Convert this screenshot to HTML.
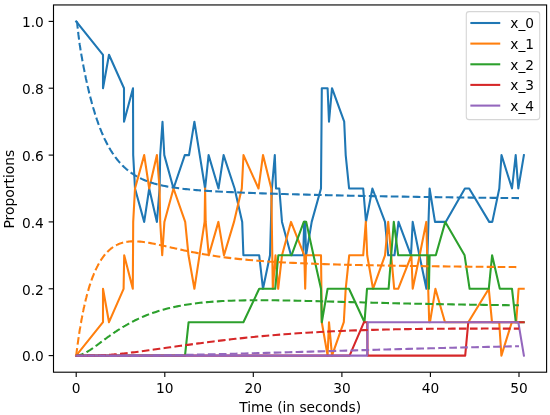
<!DOCTYPE html>
<html><head><meta charset="utf-8"><title>Proportions</title>
<style>
html,body{margin:0;padding:0;background:#fff;}
svg{display:block;}
text{font-family:"DejaVu Sans","Liberation Sans",sans-serif;font-size:13.75px;fill:#000;}
.s{fill:none;stroke-width:2.08;stroke-linejoin:round;stroke-linecap:square;}
.d{fill:none;stroke-width:2.08;stroke-dasharray:7.66 3.315;stroke-linecap:butt;stroke-linejoin:round;}
.t{stroke:#000;stroke-width:1.11;}
</style></head><body>
<svg width="550" height="415" viewBox="0 0 550 415">
<rect width="550" height="415" fill="#fff"/>
<clipPath id="c"><rect x="53.5" y="4.95" width="493.1" height="367.25"/></clipPath>
<g clip-path="url(#c)">
<polyline class="s" stroke="#1f77b4" points="76.2,21.4 103.0,54.8 103.0,88.2 109.0,54.8 124.0,88.2 124.0,121.7 133.0,88.2 133.2,155.1 135.0,188.5 144.2,221.9 149.2,188.5 156.9,221.9 159.6,188.5 160.2,155.1 162.5,121.7 164.3,155.1 173.5,188.5 184.8,155.1 189.0,155.1 194.4,121.7 205.1,188.5 208.6,155.1 218.5,188.5 223.6,155.1 234.6,188.5 242.2,221.9 243.4,255.3 259.2,255.3 263.0,288.8 270.0,255.3 271.9,188.5 274.8,155.1 276.0,188.5 279.3,188.5 282.0,221.9 291.0,255.3 303.2,255.3 304.2,221.9 305.1,221.9 306.1,255.3 311.7,221.9 321.0,188.5 321.8,88.2 327.6,88.2 329.0,121.7 332.0,88.2 344.2,121.7 345.7,155.1 349.1,188.5 363.2,188.5 366.0,221.9 372.4,188.5 385.0,221.9 388.2,255.3 394.5,255.3 398.5,221.9 411.0,255.3 412.7,221.9 419.4,255.3 426.4,288.8 427.4,255.3 429.6,188.5 435.0,221.9 445.7,221.9 464.9,188.5 469.2,188.5 489.2,221.9 492.3,221.9 499.3,188.5 501.5,155.1 512.0,188.5 515.7,155.1 518.3,188.5 523.9,155.1"/>
<polyline class="s" stroke="#ff7f0e" points="76.2,355.6 103.0,322.2 103.0,288.8 109.0,322.2 123.6,288.8 124.2,255.3 132.8,288.8 133.2,221.9 135.0,188.5 144.2,155.1 149.2,188.5 156.9,155.1 159.6,188.5 160.2,221.9 162.2,255.3 164.4,221.9 173.5,188.5 185.2,221.9 188.5,255.3 194.4,288.8 204.6,221.9 205.1,188.5 205.7,221.9 208.8,255.3 218.4,221.9 224.0,255.3 234.0,221.9 241.8,188.5 243.5,155.1 258.5,188.5 263.0,155.1 271.3,188.5 272.8,288.8 275.5,255.3 278.2,288.8 282.0,255.3 291.0,221.9 304.3,255.3 305.2,288.8 306.1,255.3 321.0,255.3 321.8,322.2 327.6,355.6 329.0,322.2 332.0,355.6 343.8,322.2 345.7,288.8 349.2,255.3 363.2,255.3 365.8,221.9 367.2,255.3 373.0,288.8 385.0,255.3 388.2,221.9 394.2,288.8 398.2,288.8 411.4,255.3 412.7,288.8 419.7,255.3 426.3,221.9 427.2,255.3 429.2,322.2 430.0,322.2 435.4,288.8 445.0,322.2 468.3,322.2 488.8,288.8 492.0,322.2 499.2,322.2 501.4,355.6 511.8,322.2 516.2,322.2 518.6,288.8 523.7,288.8"/>
<polyline class="s" stroke="#2ca02c" points="76.2,355.6 185.0,355.6 188.6,322.2 243.4,322.2 259.2,288.8 275.2,288.8 278.3,255.3 291.5,255.3 303.8,221.9 306.2,221.9 313.5,255.3 321.0,288.8 321.8,322.2 327.6,288.8 349.0,288.8 364.5,322.2 367.0,288.8 388.6,288.8 393.8,221.9 398.2,255.3 428.2,255.3 428.9,288.8 429.6,255.3 435.8,255.3 445.3,221.9 464.6,255.3 469.6,288.8 488.8,288.8 492.1,255.3 499.8,288.8 512.0,288.8 515.8,322.2 523.7,322.2"/>
<polyline class="s" stroke="#d62728" points="76.2,355.6 349.6,355.6 364.0,322.2 367.2,322.2 367.6,355.6 465.2,355.6 468.3,322.2 523.7,322.2"/>
<polyline class="s" stroke="#9467bd" points="76.2,355.6 367.2,355.6 367.6,322.2 518.3,322.2 523.9,355.6"/>
<polyline class="d" stroke="#1f77b4" points="76.2,21.40 76.6,21.83 77.1,22.25 77.5,26.46 78.0,30.66 78.4,34.47 78.9,38.27 79.3,41.47 79.7,44.67 80.2,47.50 80.6,50.34 81.1,52.97 81.5,55.59 82.0,58.08 82.4,60.57 82.8,62.95 83.3,65.33 83.7,67.62 84.2,69.90 84.6,72.10 85.1,74.30 85.5,76.42 85.9,78.54 86.4,80.58 86.8,82.61 87.3,84.58 87.7,86.54 88.2,88.43 88.6,90.32 89.0,92.14 89.5,93.95 89.9,95.71 90.4,97.46 90.8,99.14 91.3,100.83 91.7,102.45 92.1,104.08 92.6,105.64 93.0,107.20 93.5,108.71 93.9,110.21 94.4,111.66 94.8,113.11 95.2,114.51 95.7,115.90 96.1,117.25 96.6,118.59 97.0,119.88 97.5,121.18 97.9,122.42 98.3,123.67 98.8,124.87 99.2,126.07 99.7,127.23 100.1,128.38 100.6,129.49 101.0,130.61 101.4,131.68 101.9,132.75 102.3,133.78 102.8,134.82 103.2,135.81 103.7,136.81 104.1,137.76 104.5,138.72 105.0,139.64 105.4,140.57 105.9,141.46 106.3,142.35 106.8,143.20 107.2,144.06 107.6,144.88 108.1,145.71 108.5,146.50 109.0,147.30 109.4,148.06 109.9,148.83 110.3,149.57 110.7,150.30 111.2,151.01 111.6,151.72 112.1,152.41 112.5,153.09 113.0,153.75 113.4,154.41 113.8,155.05 114.3,155.69 114.7,156.30 115.2,156.91 115.6,157.50 116.1,158.09 116.5,158.66 116.9,159.23 117.4,159.78 117.8,160.33 118.3,160.86 118.7,161.39 119.2,161.90 119.6,162.40 120.0,162.90 120.5,163.39 120.9,163.86 121.4,164.34 121.8,164.79 122.3,165.25 122.7,165.69 123.1,166.13 123.6,166.55 124.0,166.98 124.5,167.39 124.9,167.80 125.4,168.19 125.8,168.59 126.2,168.97 126.7,169.35 127.1,169.72 127.6,170.08 128.0,170.44 128.5,170.79 128.9,171.14 129.3,171.48 131.1,172.77 132.9,173.98 134.6,175.11 136.4,176.15 138.2,177.13 140.0,178.04 141.7,178.89 143.5,179.68 145.3,180.43 147.0,181.12 148.8,181.77 150.6,182.37 152.4,182.94 154.1,183.47 155.9,183.97 157.7,184.44 159.4,184.88 161.2,185.29 163.0,185.67 164.8,186.04 166.5,186.38 168.3,186.71 170.1,187.01 171.8,187.30 173.6,187.57 175.4,187.83 177.2,188.08 178.9,188.31 180.7,188.53 182.5,188.74 184.2,188.94 186.0,189.13 187.8,189.31 189.6,189.48 191.3,189.65 193.1,189.81 194.9,189.96 196.6,190.10 198.4,190.24 200.2,190.38 202.0,190.51 203.7,190.63 205.5,190.75 207.3,190.87 209.0,190.98 213.5,191.25 217.9,191.49 222.3,191.72 226.8,191.94 231.2,192.15 235.6,192.34 240.0,192.52 244.5,192.70 248.9,192.87 253.3,193.03 257.7,193.19 262.2,193.34 266.6,193.49 271.0,193.63 275.5,193.77 279.9,193.91 284.3,194.04 288.7,194.17 293.2,194.29 297.6,194.41 302.0,194.53 306.5,194.65 310.9,194.76 315.3,194.88 319.7,194.98 324.2,195.09 328.6,195.19 333.0,195.30 337.5,195.40 341.9,195.49 346.3,195.59 350.7,195.68 355.2,195.77 359.6,195.86 364.0,195.95 368.4,196.04 372.9,196.12 377.3,196.20 381.7,196.28 386.2,196.36 390.6,196.44 395.0,196.52 399.4,196.59 403.9,196.66 408.3,196.73 412.7,196.80 417.2,196.87 421.6,196.94 426.0,197.00 430.4,197.07 434.9,197.13 439.3,197.19 443.7,197.25 448.2,197.31 452.6,197.37 457.0,197.43 461.4,197.48 465.9,197.54 470.3,197.59 474.7,197.64 479.1,197.69 483.6,197.74 488.0,197.79 492.4,197.84 496.9,197.89 501.3,197.93 505.7,197.98 510.1,198.02 514.6,198.06 519.0,198.11"/>
<polyline class="d" stroke="#ff7f0e" points="76.2,355.60 76.6,352.06 77.1,348.52 77.5,345.23 78.0,341.94 78.4,338.87 78.9,335.80 79.3,332.94 79.7,330.08 80.2,327.41 80.6,324.73 81.1,322.23 81.5,319.73 82.0,317.38 82.4,315.03 82.8,312.83 83.3,310.63 83.7,308.56 84.2,306.49 84.6,304.54 85.1,302.59 85.5,300.76 85.9,298.92 86.4,297.19 86.8,295.47 87.3,293.83 87.7,292.20 88.2,290.66 88.6,289.12 89.0,287.67 89.5,286.21 89.9,284.84 90.4,283.46 90.8,282.16 91.3,280.86 91.7,279.63 92.1,278.40 92.6,277.24 93.0,276.08 93.5,274.97 93.9,273.87 94.4,272.83 94.8,271.79 95.2,270.80 95.7,269.81 96.1,268.88 96.6,267.94 97.0,267.06 97.5,266.17 97.9,265.34 98.3,264.50 98.8,263.71 99.2,262.92 99.7,262.17 100.1,261.42 100.6,260.71 101.0,260.00 101.4,259.33 101.9,258.66 102.3,258.03 102.8,257.39 103.2,256.79 103.7,256.20 104.1,255.63 104.5,255.07 105.0,254.54 105.4,254.00 105.9,253.50 106.3,253.00 106.8,252.53 107.2,252.05 107.6,251.61 108.1,251.16 108.5,250.75 109.0,250.33 109.4,249.94 109.9,249.54 110.3,249.17 110.7,248.81 111.2,248.46 111.6,248.12 112.1,247.79 112.5,247.47 113.0,247.17 113.4,246.87 113.8,246.59 114.3,246.31 114.7,246.05 115.2,245.78 115.6,245.54 116.1,245.30 116.5,245.07 116.9,244.85 117.4,244.64 117.8,244.43 118.3,244.24 118.7,244.05 119.2,243.87 119.6,243.70 120.0,243.54 120.5,243.38 120.9,243.23 121.4,243.08 121.8,242.95 122.3,242.82 122.7,242.70 123.1,242.57 123.6,242.47 124.0,242.36 124.5,242.26 124.9,242.17 125.4,242.08 125.8,242.00 126.2,241.92 126.7,241.85 127.1,241.79 127.6,241.72 128.0,241.67 128.5,241.61 128.9,241.57 129.3,241.52 131.1,241.40 132.9,241.34 134.6,241.33 136.4,241.38 138.2,241.48 140.0,241.62 141.7,241.80 143.5,242.01 145.3,242.25 147.0,242.52 148.8,242.81 150.6,243.12 152.4,243.45 154.1,243.80 155.9,244.16 157.7,244.52 159.4,244.90 161.2,245.29 163.0,245.68 164.8,246.07 166.5,246.47 168.3,246.87 170.1,247.27 171.8,247.67 173.6,248.07 175.4,248.47 177.2,248.86 178.9,249.26 180.7,249.64 182.5,250.03 184.2,250.40 186.0,250.78 187.8,251.14 189.6,251.51 191.3,251.86 193.1,252.21 194.9,252.55 196.6,252.89 198.4,253.22 200.2,253.54 202.0,253.86 203.7,254.17 205.5,254.47 207.3,254.77 209.0,255.06 213.5,255.75 217.9,256.41 222.3,257.02 226.8,257.60 231.2,258.14 235.6,258.64 240.0,259.12 244.5,259.56 248.9,259.97 253.3,260.36 257.7,260.72 262.2,261.06 266.6,261.37 271.0,261.67 275.5,261.94 279.9,262.20 284.3,262.45 288.7,262.68 293.2,262.89 297.6,263.10 302.0,263.29 306.5,263.47 310.9,263.64 315.3,263.80 319.7,263.96 324.2,264.10 328.6,264.24 333.0,264.37 337.5,264.50 341.9,264.62 346.3,264.73 350.7,264.84 355.2,264.94 359.6,265.04 364.0,265.14 368.4,265.23 372.9,265.32 377.3,265.41 381.7,265.49 386.2,265.57 390.6,265.65 395.0,265.72 399.4,265.79 403.9,265.86 408.3,265.93 412.7,266.00 417.2,266.06 421.6,266.12 426.0,266.18 430.4,266.24 434.9,266.29 439.3,266.35 443.7,266.40 448.2,266.45 452.6,266.50 457.0,266.55 461.4,266.60 465.9,266.65 470.3,266.69 474.7,266.73 479.1,266.78 483.6,266.82 488.0,266.86 492.4,266.90 496.9,266.94 501.3,266.97 505.7,267.01 510.1,267.05 514.6,267.08 519.0,267.11"/>
<polyline class="d" stroke="#2ca02c" points="76.2,355.60 76.6,355.59 77.1,355.57 77.5,355.52 78.0,355.48 78.4,355.40 78.9,355.32 79.3,355.22 79.7,355.12 80.2,354.99 80.6,354.86 81.1,354.71 81.5,354.56 82.0,354.39 82.4,354.21 82.8,354.02 83.3,353.83 83.7,353.63 84.2,353.42 84.6,353.19 85.1,352.97 85.5,352.73 85.9,352.50 86.4,352.25 86.8,351.99 87.3,351.73 87.7,351.47 88.2,351.20 88.6,350.93 89.0,350.65 89.5,350.36 89.9,350.07 90.4,349.78 90.8,349.49 91.3,349.19 91.7,348.89 92.1,348.58 92.6,348.28 93.0,347.97 93.5,347.65 93.9,347.34 94.4,347.02 94.8,346.71 95.2,346.38 95.7,346.06 96.1,345.74 96.6,345.42 97.0,345.09 97.5,344.76 97.9,344.44 98.3,344.11 98.8,343.78 99.2,343.45 99.7,343.12 100.1,342.79 100.6,342.46 101.0,342.13 101.4,341.80 101.9,341.47 102.3,341.15 102.8,340.82 103.2,340.49 103.7,340.16 104.1,339.83 104.5,339.50 105.0,339.18 105.4,338.85 105.9,338.53 106.3,338.20 106.8,337.88 107.2,337.56 107.6,337.24 108.1,336.91 108.5,336.60 109.0,336.28 109.4,335.96 109.9,335.65 110.3,335.33 110.7,335.02 111.2,334.71 111.6,334.40 112.1,334.09 112.5,333.78 113.0,333.47 113.4,333.17 113.8,332.87 114.3,332.56 114.7,332.26 115.2,331.97 115.6,331.67 116.1,331.37 116.5,331.08 116.9,330.79 117.4,330.50 117.8,330.21 118.3,329.92 118.7,329.64 119.2,329.35 119.6,329.07 120.0,328.79 120.5,328.51 120.9,328.24 121.4,327.96 121.8,327.69 122.3,327.42 122.7,327.15 123.1,326.88 123.6,326.62 124.0,326.35 124.5,326.09 124.9,325.83 125.4,325.57 125.8,325.32 126.2,325.06 126.7,324.81 127.1,324.56 127.6,324.31 128.0,324.06 128.5,323.82 128.9,323.57 129.3,323.33 131.1,322.38 132.9,321.46 134.6,320.56 136.4,319.70 138.2,318.86 140.0,318.05 141.7,317.27 143.5,316.51 145.3,315.78 147.0,315.07 148.8,314.39 150.6,313.74 152.4,313.10 154.1,312.49 155.9,311.90 157.7,311.33 159.4,310.79 161.2,310.26 163.0,309.76 164.8,309.27 166.5,308.80 168.3,308.35 170.1,307.92 171.8,307.51 173.6,307.11 175.4,306.73 177.2,306.36 178.9,306.01 180.7,305.68 182.5,305.36 184.2,305.05 186.0,304.75 187.8,304.47 189.6,304.21 191.3,303.95 193.1,303.71 194.9,303.47 196.6,303.25 198.4,303.04 200.2,302.84 202.0,302.65 203.7,302.47 205.5,302.30 207.3,302.14 209.0,301.98 213.5,301.64 217.9,301.34 222.3,301.08 226.8,300.87 231.2,300.69 235.6,300.54 240.0,300.43 244.5,300.35 248.9,300.29 253.3,300.25 257.7,300.23 262.2,300.23 266.6,300.25 271.0,300.28 275.5,300.33 279.9,300.39 284.3,300.46 288.7,300.54 293.2,300.62 297.6,300.71 302.0,300.81 306.5,300.92 310.9,301.03 315.3,301.14 319.7,301.25 324.2,301.37 328.6,301.49 333.0,301.61 337.5,301.73 341.9,301.85 346.3,301.97 350.7,302.09 355.2,302.21 359.6,302.33 364.0,302.45 368.4,302.57 372.9,302.68 377.3,302.80 381.7,302.91 386.2,303.02 390.6,303.13 395.0,303.23 399.4,303.34 403.9,303.44 408.3,303.54 412.7,303.63 417.2,303.73 421.6,303.82 426.0,303.91 430.4,303.99 434.9,304.08 439.3,304.16 443.7,304.24 448.2,304.32 452.6,304.39 457.0,304.47 461.4,304.54 465.9,304.61 470.3,304.67 474.7,304.74 479.1,304.80 483.6,304.86 488.0,304.92 492.4,304.97 496.9,305.03 501.3,305.08 505.7,305.13 510.1,305.18 514.6,305.22 519.0,305.27"/>
<polyline class="d" stroke="#d62728" points="76.2,355.60 76.6,355.60 77.1,355.60 77.5,355.60 78.0,355.60 78.4,355.60 78.9,355.60 79.3,355.60 79.7,355.60 80.2,355.60 80.6,355.60 81.1,355.60 81.5,355.60 82.0,355.60 82.4,355.60 82.8,355.60 83.3,355.60 83.7,355.60 84.2,355.60 84.6,355.60 85.1,355.60 85.5,355.60 85.9,355.60 86.4,355.60 86.8,355.60 87.3,355.60 87.7,355.60 88.2,355.60 88.6,355.60 89.0,355.60 89.5,355.60 89.9,355.60 90.4,355.60 90.8,355.60 91.3,355.60 91.7,355.60 92.1,355.60 92.6,355.60 93.0,355.60 93.5,355.60 93.9,355.60 94.4,355.60 94.8,355.60 95.2,355.60 95.7,355.60 96.1,355.60 96.6,355.60 97.0,355.59 97.5,355.58 97.9,355.56 98.3,355.54 98.8,355.52 99.2,355.50 99.7,355.47 100.1,355.45 100.6,355.42 101.0,355.40 101.4,355.37 101.9,355.35 102.3,355.32 102.8,355.30 103.2,355.27 103.7,355.24 104.1,355.21 104.5,355.18 105.0,355.15 105.4,355.12 105.9,355.09 106.3,355.06 106.8,355.03 107.2,354.99 107.6,354.96 108.1,354.93 108.5,354.89 109.0,354.86 109.4,354.82 109.9,354.79 110.3,354.75 110.7,354.71 111.2,354.67 111.6,354.64 112.1,354.60 112.5,354.56 113.0,354.52 113.4,354.48 113.8,354.44 114.3,354.40 114.7,354.36 115.2,354.32 115.6,354.28 116.1,354.24 116.5,354.19 116.9,354.15 117.4,354.11 117.8,354.06 118.3,354.02 118.7,353.97 119.2,353.93 119.6,353.88 120.0,353.84 120.5,353.79 120.9,353.75 121.4,353.70 121.8,353.65 122.3,353.60 122.7,353.56 123.1,353.51 123.6,353.46 124.0,353.41 124.5,353.36 124.9,353.31 125.4,353.26 125.8,353.21 126.2,353.16 126.7,353.11 127.1,353.06 127.6,353.01 128.0,352.96 128.5,352.91 128.9,352.86 129.3,352.80 131.1,352.59 132.9,352.38 134.6,352.16 136.4,351.94 138.2,351.71 140.0,351.48 141.7,351.25 143.5,351.01 145.3,350.78 147.0,350.54 148.8,350.30 150.6,350.06 152.4,349.81 154.1,349.57 155.9,349.32 157.7,349.07 159.4,348.83 161.2,348.58 163.0,348.33 164.8,348.08 166.5,347.83 168.3,347.58 170.1,347.33 171.8,347.08 173.6,346.83 175.4,346.58 177.2,346.33 178.9,346.08 180.7,345.83 182.5,345.58 184.2,345.34 186.0,345.09 187.8,344.85 189.6,344.60 191.3,344.36 193.1,344.12 194.9,343.88 196.6,343.64 198.4,343.40 200.2,343.17 202.0,342.93 203.7,342.70 205.5,342.47 207.3,342.24 209.0,342.01 213.5,341.45 217.9,340.90 222.3,340.37 226.8,339.84 231.2,339.33 235.6,338.84 240.0,338.35 244.5,337.88 248.9,337.43 253.3,336.98 257.7,336.56 262.2,336.14 266.6,335.74 271.0,335.36 275.5,334.98 279.9,334.62 284.3,334.28 288.7,333.95 293.2,333.63 297.6,333.32 302.0,333.03 306.5,332.75 310.9,332.48 315.3,332.23 319.7,331.98 324.2,331.75 328.6,331.53 333.0,331.31 337.5,331.11 341.9,330.92 346.3,330.74 350.7,330.57 355.2,330.41 359.6,330.26 364.0,330.11 368.4,329.98 372.9,329.85 377.3,329.73 381.7,329.62 386.2,329.51 390.6,329.42 395.0,329.33 399.4,329.24 403.9,329.16 408.3,329.09 412.7,329.03 417.2,328.97 421.6,328.91 426.0,328.86 430.4,328.82 434.9,328.77 439.3,328.74 443.7,328.71 448.2,328.68 452.6,328.66 457.0,328.64 461.4,328.62 465.9,328.61 470.3,328.60 474.7,328.59 479.1,328.59 483.6,328.58 488.0,328.58 492.4,328.59 496.9,328.59 501.3,328.60 505.7,328.61 510.1,328.62 514.6,328.64 519.0,328.65"/>
<polyline class="d" stroke="#9467bd" points="76.2,355.60 76.6,355.60 77.1,355.60 77.5,355.60 78.0,355.60 78.4,355.60 78.9,355.60 79.3,355.60 79.7,355.60 80.2,355.60 80.6,355.60 81.1,355.60 81.5,355.60 82.0,355.60 82.4,355.60 82.8,355.60 83.3,355.60 83.7,355.60 84.2,355.60 84.6,355.60 85.1,355.60 85.5,355.60 85.9,355.60 86.4,355.60 86.8,355.60 87.3,355.60 87.7,355.60 88.2,355.60 88.6,355.60 89.0,355.60 89.5,355.60 89.9,355.60 90.4,355.60 90.8,355.60 91.3,355.60 91.7,355.60 92.1,355.60 92.6,355.60 93.0,355.60 93.5,355.60 93.9,355.60 94.4,355.60 94.8,355.60 95.2,355.60 95.7,355.60 96.1,355.60 96.6,355.60 97.0,355.60 97.5,355.60 97.9,355.60 98.3,355.60 98.8,355.60 99.2,355.60 99.7,355.60 100.1,355.60 100.6,355.60 101.0,355.60 101.4,355.60 101.9,355.60 102.3,355.60 102.8,355.60 103.2,355.60 103.7,355.60 104.1,355.60 104.5,355.60 105.0,355.60 105.4,355.60 105.9,355.60 106.3,355.60 106.8,355.60 107.2,355.60 107.6,355.60 108.1,355.60 108.5,355.60 109.0,355.60 109.4,355.60 109.9,355.60 110.3,355.60 110.7,355.60 111.2,355.60 111.6,355.60 112.1,355.60 112.5,355.60 113.0,355.60 113.4,355.60 113.8,355.60 114.3,355.60 114.7,355.60 115.2,355.60 115.6,355.60 116.1,355.60 116.5,355.60 116.9,355.60 117.4,355.60 117.8,355.60 118.3,355.60 118.7,355.60 119.2,355.60 119.6,355.60 120.0,355.60 120.5,355.60 120.9,355.60 121.4,355.60 121.8,355.60 122.3,355.60 122.7,355.60 123.1,355.60 123.6,355.60 124.0,355.60 124.5,355.60 124.9,355.60 125.4,355.60 125.8,355.60 126.2,355.60 126.7,355.60 127.1,355.60 127.6,355.60 128.0,355.60 128.5,355.60 128.9,355.60 129.3,355.60 131.1,355.60 132.9,355.60 134.6,355.60 136.4,355.60 138.2,355.60 140.0,355.58 141.7,355.56 143.5,355.54 145.3,355.52 147.0,355.50 148.8,355.48 150.6,355.45 152.4,355.43 154.1,355.41 155.9,355.38 157.7,355.35 159.4,355.33 161.2,355.30 163.0,355.27 164.8,355.24 166.5,355.21 168.3,355.18 170.1,355.15 171.8,355.12 173.6,355.09 175.4,355.06 177.2,355.02 178.9,354.99 180.7,354.96 182.5,354.92 184.2,354.89 186.0,354.85 187.8,354.81 189.6,354.78 191.3,354.74 193.1,354.70 194.9,354.67 196.6,354.63 198.4,354.59 200.2,354.55 202.0,354.51 203.7,354.47 205.5,354.43 207.3,354.39 209.0,354.35 213.5,354.24 217.9,354.14 222.3,354.03 226.8,353.92 231.2,353.80 235.6,353.69 240.0,353.57 244.5,353.46 248.9,353.34 253.3,353.22 257.7,353.10 262.2,352.98 266.6,352.86 271.0,352.73 275.5,352.61 279.9,352.48 284.3,352.36 288.7,352.23 293.2,352.11 297.6,351.98 302.0,351.86 306.5,351.73 310.9,351.60 315.3,351.48 319.7,351.35 324.2,351.22 328.6,351.09 333.0,350.97 337.5,350.84 341.9,350.72 346.3,350.59 350.7,350.46 355.2,350.34 359.6,350.21 364.0,350.09 368.4,349.96 372.9,349.84 377.3,349.72 381.7,349.60 386.2,349.47 390.6,349.35 395.0,349.23 399.4,349.11 403.9,348.99 408.3,348.88 412.7,348.76 417.2,348.64 421.6,348.52 426.0,348.41 430.4,348.30 434.9,348.18 439.3,348.07 443.7,347.96 448.2,347.85 452.6,347.74 457.0,347.63 461.4,347.52 465.9,347.41 470.3,347.30 474.7,347.20 479.1,347.09 483.6,346.99 488.0,346.89 492.4,346.79 496.9,346.68 501.3,346.59 505.7,346.49 510.1,346.39 514.6,346.29 519.0,346.20"/>
</g>
<line class="t" x1="76.2" y1="372.2" x2="76.2" y2="377.06"/>
<text x="76.2" y="392.8" text-anchor="middle">0</text>
<line class="t" x1="164.8" y1="372.2" x2="164.8" y2="377.06"/>
<text x="164.8" y="392.8" text-anchor="middle">10</text>
<line class="t" x1="253.3" y1="372.2" x2="253.3" y2="377.06"/>
<text x="253.3" y="392.8" text-anchor="middle">20</text>
<line class="t" x1="341.9" y1="372.2" x2="341.9" y2="377.06"/>
<text x="341.9" y="392.8" text-anchor="middle">30</text>
<line class="t" x1="430.4" y1="372.2" x2="430.4" y2="377.06"/>
<text x="430.4" y="392.8" text-anchor="middle">40</text>
<line class="t" x1="519.0" y1="372.2" x2="519.0" y2="377.06"/>
<text x="519.0" y="392.8" text-anchor="middle">50</text>
<line class="t" x1="53.5" y1="355.6" x2="48.64" y2="355.6"/>
<text x="43.8" y="361.3" text-anchor="end">0.0</text>
<line class="t" x1="53.5" y1="288.8" x2="48.64" y2="288.8"/>
<text x="43.8" y="294.5" text-anchor="end">0.2</text>
<line class="t" x1="53.5" y1="221.9" x2="48.64" y2="221.9"/>
<text x="43.8" y="227.6" text-anchor="end">0.4</text>
<line class="t" x1="53.5" y1="155.1" x2="48.64" y2="155.1"/>
<text x="43.8" y="160.8" text-anchor="end">0.6</text>
<line class="t" x1="53.5" y1="88.2" x2="48.64" y2="88.2"/>
<text x="43.8" y="93.9" text-anchor="end">0.8</text>
<line class="t" x1="53.5" y1="21.4" x2="48.64" y2="21.4"/>
<text x="43.8" y="27.1" text-anchor="end">1.0</text>
<rect x="53.5" y="4.95" width="493.1" height="367.25" fill="none" stroke="#000" stroke-width="1.11"/>
<text x="300.1" y="411.5" text-anchor="middle">Time (in seconds)</text>
<text transform="translate(13.8,189.1) rotate(-90)" text-anchor="middle" style="font-size:13.88px">Proportions</text>
<rect x="466.3" y="11.6" width="73.4" height="108" rx="2.8" ry="2.8" fill="#fff" fill-opacity="0.8" stroke="#ccc" stroke-opacity="0.8" stroke-width="1.11"/>
<line x1="471.4" y1="23.0" x2="499.2" y2="23.0" stroke="#1f77b4" stroke-width="2.08" stroke-linecap="square"/>
<text x="510.3" y="28.2">x_0</text>
<line x1="471.4" y1="43.6" x2="499.2" y2="43.6" stroke="#ff7f0e" stroke-width="2.08" stroke-linecap="square"/>
<text x="510.3" y="48.9">x_1</text>
<line x1="471.4" y1="64.3" x2="499.2" y2="64.3" stroke="#2ca02c" stroke-width="2.08" stroke-linecap="square"/>
<text x="510.3" y="69.5">x_2</text>
<line x1="471.4" y1="84.9" x2="499.2" y2="84.9" stroke="#d62728" stroke-width="2.08" stroke-linecap="square"/>
<text x="510.3" y="90.1">x_3</text>
<line x1="471.4" y1="105.6" x2="499.2" y2="105.6" stroke="#9467bd" stroke-width="2.08" stroke-linecap="square"/>
<text x="510.3" y="110.8">x_4</text>
</svg></body></html>
